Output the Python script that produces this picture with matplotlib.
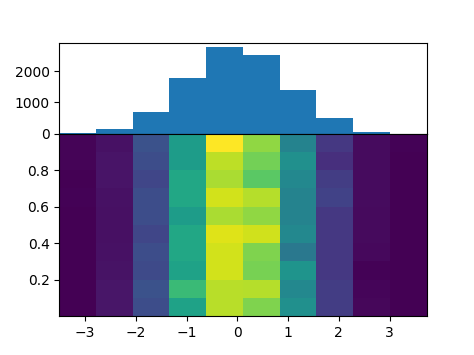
"""
plot.py

Marginal histogram on top of a 2D histogram of normal x and uniform y samples.
"""
import matplotlib.pyplot as plt
import numpy as np

# bin ranges
x_min, x_max = -3.506, 3.728
y_min, y_max = 0.0002, 0.9998

# 2D counts, one list per x bin, values listed from top y bin to bottom y bin
col_counts = [
    [3, 3, 1, 2, 0, 0, 1, 1, 1, 0],
    [14, 16, 16, 14, 13, 13, 14, 15, 17, 17],
    [76, 71, 63, 71, 71, 63, 71, 68, 76, 71],
    [166, 166, 181, 181, 166, 181, 181, 175, 205, 175],
    [303, 273, 264, 282, 264, 288, 282, 282, 270, 270],
    [253, 238, 226, 269, 253, 281, 244, 241, 269, 244],
    [136, 151, 142, 136, 136, 142, 121, 157, 142, 151],
    [49, 41, 54, 60, 49, 49, 49, 49, 54, 54],
    [9, 9, 9, 9, 8, 8, 7, 2, 4, 5],
    [2, 0, 1, 0, 0, 0, 1, 0, 0, 1],
]


def plot_joint():
    counts = np.array(col_counts, dtype=float)[:, ::-1].T  # rows = y bins bottom->top
    x_edges = np.linspace(x_min, x_max, counts.shape[1] + 1)
    y_edges = np.linspace(y_min, y_max, counts.shape[0] + 1)
    x_totals = counts.sum(axis=0)

    fig = plt.figure(figsize=(4.74, 3.55), dpi=100)
    gs = fig.add_gridspec(2, 1, height_ratios=[1, 2], hspace=0)
    ax_hist = fig.add_subplot(gs[0])
    ax_2d = fig.add_subplot(gs[1], sharex=ax_hist)

    # marginal histogram
    ax_hist.bar(x_edges[:-1], x_totals, width=np.diff(x_edges), align="edge", color="tab:blue")
    ax_hist.tick_params(labelbottom=False)

    # 2d histogram
    ax_2d.pcolormesh(x_edges, y_edges, counts, cmap="viridis")
    ax_2d.set_xlim(x_edges[0], x_edges[-1])
    ax_2d.set_ylim(y_edges[0], y_edges[-1])

    plt.savefig("out.png", dpi=100)


if __name__ == "__main__":
    plot_joint()
